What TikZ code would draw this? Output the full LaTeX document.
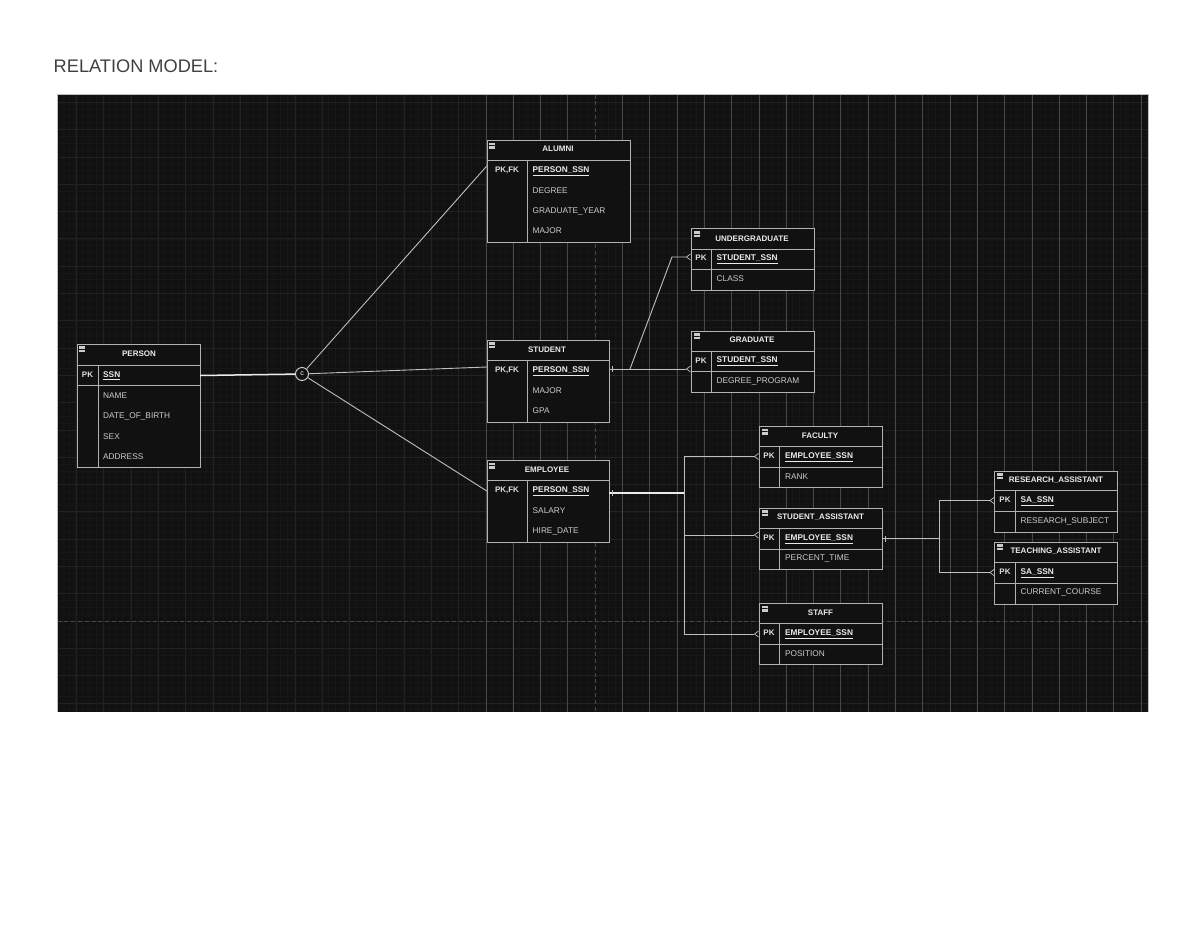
\documentclass[tikz,border=0pt]{standalone}
\usepackage{fontspec}
\setmainfont{Liberation Sans}
\usetikzlibrary{arrows.meta, positioning, calc}
\definecolor{canvasdark}{RGB}{17, 17, 17}
\definecolor{gridfine}{RGB}{22, 22, 22}
\definecolor{gridmajor}{RGB}{34, 34, 34}
\definecolor{gridlight}{RGB}{72, 72, 72}
\definecolor{tableline}{RGB}{178, 178, 178}

\begin{document}
\begin{tikzpicture}[
    x=1pt, y=-1pt,
    tablebox/.style={rectangle, draw=tableline, line width=0.9pt, fill=canvasdark, inner sep=0pt},
    rowspan/.style={rectangle, inner sep=0pt, minimum height=20.5pt},
    title/.style={font=\fontsize{8}{9}\selectfont\bfseries, text=white!92!black, inner sep=0pt},
    pkcell/.style={font=\fontsize{8}{9}\selectfont\bfseries, text=white!88!black, inner sep=0pt},
    keycell/.style={font=\fontsize{8.3}{9}\selectfont\bfseries, text=white!92!black, inner sep=0pt, anchor=west},
    attr/.style={font=\fontsize{8.3}{9}\selectfont, text=white!80!black, inner sep=0pt, anchor=west},
    minusicon/.style={rectangle, fill=white!80!black, minimum size=6pt, inner sep=0pt,
        path picture={\draw[canvasdark, line width=0.7pt] (path picture bounding box.west) -- (path picture bounding box.east);}},
    rule/.style={draw=tableline, line width=0.9pt},
    link/.style={draw=white!75!black, line width=0.9pt},
    heavylink/.style={draw=white!92!black, line width=1.5pt},
    crowfoot/.style={-{Straight Barb[reversed, length=4pt, width=6pt, line width=0.7pt]}},
    griddash/.style={gridlight, line width=0.9pt, dash pattern=on 4pt off 2.8pt}
]
% canvas and grid
\useasboundingbox (0,0) rectangle (1200,927);
\fill[white] (0,0) rectangle (1200,927);
\fill[canvasdark] (57,94) rectangle (1148,712);
\draw[white!75!black, line width=0.8pt] (57,712) -- (57,94) -- (1148,94) -- (1148,712);
\foreach \i in {0,...,159} \draw[gridfine, line width=0.6pt] ({62+\i*6.825},94.5) -- ({62+\i*6.825},712);
\foreach \i in {0,...,89} \draw[gridfine, line width=0.6pt] (57.5,{102.3+\i*6.825}) -- (1148,{102.3+\i*6.825});
\foreach \i in {0,...,14} \draw[gridmajor, line width=0.8pt] ({76.5+\i*27.3},94.5) -- ({76.5+\i*27.3},712);
\foreach \i in {0,...,22} \draw[gridmajor, line width=0.8pt] (57.5,{102.3+\i*27.3}) -- (1148,{102.3+\i*27.3});
\foreach \i in {0,1,2,3,5,6,7,8,9,10,11,12,13,14,15,16,17,18,19,20,21,22,23,24} \draw[gridlight, line width=0.9pt] ({486+\i*27.3},94.5) -- ({486+\i*27.3},712);
\draw[griddash] (595.2,94.5) -- (595.2,712);
\draw[griddash] (57.5,621) -- (1148,621);

\node at (136,66) {\fontsize{18.2}{20}\selectfont\color{black!75}RELATION MODEL:};

% person
\node[tablebox, minimum width=123pt, minimum height=123pt] (person) at (138.5,405.5) {};
\draw[rule] (77,365) -- (200,365);
\draw[rule] (77,385.5) -- (200,385.5);
\draw[rule] (98,365) -- (98,467);
\node[minusicon] (personicon) at (82,349) {};
\node[title] (persontitle) at (139,354) {PERSON};
\node[rowspan, minimum width=123pt] (personrow) at (138.5,375.5) {};
\node[pkcell] (personpk) at (87.5,375) {PK};
\node[keycell] (personkey) at (103,375.5) {\underline{SSN}};
\node[attr] (personname) at (103,395.5) {NAME};
\node[attr] (persondob) at (103,416) {DATE\_OF\_BIRTH};
\node[attr] (personsex) at (103,436.5) {SEX};
\node[attr] (personaddr) at (103,457) {ADDRESS};

% alumni
\node[tablebox, minimum width=143pt, minimum height=102pt] (alumni) at (558.5,191) {};
\draw[rule] (487,160) -- (630,160);
\draw[rule] (527.5,160) -- (527.5,242);
\node[minusicon] (alumniicon) at (491.5,145.5) {};
\node[title] (alumnititle) at (558,149) {ALUMNI};
\node[rowspan, minimum width=143pt] (alumnirow) at (558.5,170) {};
\node[pkcell] (alumnipk) at (507,170) {PK,FK};
\node[keycell] (alumnikey) at (532.5,171) {\underline{PERSON\_SSN}};
\node[attr] (alumnideg) at (532.5,190.5) {DEGREE};
\node[attr] (alumniyear) at (532.5,211) {GRADUATE\_YEAR};
\node[attr] (alumnimajor) at (532.5,231) {MAJOR};

% student
\node[tablebox, minimum width=122pt, minimum height=82pt] (student) at (548,381) {};
\draw[rule] (487,360) -- (609,360);
\draw[rule] (527.5,360) -- (527.5,422);
\node[minusicon] (studenticon) at (491.5,345) {};
\node[title] (studenttitle) at (547,349.5) {STUDENT};
\node[rowspan, minimum width=122pt] (studentrow) at (548,370.5) {};
\node[pkcell] (studentpk) at (507,370) {PK,FK};
\node[keycell] (studentkey) at (532.5,371) {\underline{PERSON\_SSN}};
\node[attr] (studentmajor) at (532.5,390.5) {MAJOR};
\node[attr] (studentgpa) at (532.5,411) {GPA};

% employee
\node[tablebox, minimum width=122pt, minimum height=82pt] (employee) at (548,501) {};
\draw[rule] (487,480.5) -- (609,480.5);
\draw[rule] (527.5,480.5) -- (527.5,542);
\node[minusicon] (employeeicon) at (491.5,465.5) {};
\node[title] (employeetitle) at (547,469.5) {EMPLOYEE};
\node[rowspan, minimum width=122pt] (employeerow) at (548,491) {};
\node[pkcell] (employeepk) at (507,490.5) {PK,FK};
\node[keycell] (employeekey) at (532.5,491.5) {\underline{PERSON\_SSN}};
\node[attr] (employeesalary) at (532.5,510.5) {SALARY};
\node[attr] (employeehire) at (532.5,531) {HIRE\_DATE};

% undergraduate
\node[tablebox, minimum width=123pt, minimum height=62pt] (undergrad) at (752.5,259) {};
\draw[rule] (691,249) -- (814,249);
\draw[rule] (691,269) -- (814,269);
\draw[rule] (711.5,249) -- (711.5,290);
\node[minusicon] (undergradicon) at (696.5,234) {};
\node[title] (undergradtitle) at (752,238.5) {UNDERGRADUATE};
\node[rowspan, minimum width=123pt] (undergradrow) at (752.5,259) {};
\node[pkcell] (undergradpk) at (701,258) {PK};
\node[keycell] (undergradkey) at (716.5,259) {\underline{STUDENT\_SSN}};
\node[attr] (undergradclass) at (716.5,279) {CLASS};

% graduate
\node[tablebox, minimum width=123pt, minimum height=61pt] (graduate) at (752.5,361.5) {};
\draw[rule] (691,351) -- (814,351);
\draw[rule] (691,371.5) -- (814,371.5);
\draw[rule] (711.5,351) -- (711.5,392);
\node[minusicon] (graduateicon) at (696.5,336) {};
\node[title] (graduatetitle) at (752,340) {GRADUATE};
\node[rowspan, minimum width=123pt] (graduaterow) at (752.5,361) {};
\node[pkcell] (graduatepk) at (701,360.5) {PK};
\node[keycell] (graduatekey) at (716.5,361.5) {\underline{STUDENT\_SSN}};
\node[attr] (graduateprog) at (716.5,381.5) {DEGREE\_PROGRAM};

% faculty
\node[tablebox, minimum width=123pt, minimum height=61pt] (faculty) at (820.5,456.5) {};
\draw[rule] (759,446) -- (882,446);
\draw[rule] (759,467) -- (882,467);
\draw[rule] (779.5,446) -- (779.5,487);
\node[minusicon] (facultyicon) at (764.5,431.5) {};
\node[title] (facultytitle) at (820,435.5) {FACULTY};
\node[rowspan, minimum width=123pt] (facultyrow) at (820.5,456.5) {};
\node[pkcell] (facultypk) at (769,456) {PK};
\node[keycell] (facultykey) at (785,457) {\underline{EMPLOYEE\_SSN}};
\node[attr] (facultyrank) at (785,476.5) {RANK};

% student assistant
\node[tablebox, minimum width=123pt, minimum height=61pt] (stuasst) at (820.5,538.5) {};
\draw[rule] (759,528) -- (882,528);
\draw[rule] (759,549) -- (882,549);
\draw[rule] (779.5,528) -- (779.5,569);
\node[minusicon] (stuassticon) at (764.5,513) {};
\node[title] (stuassttitle) at (820.5,517.5) {STUDENT\_ASSISTANT};
\node[rowspan, minimum width=123pt] (stuasstrow) at (820.5,538.5) {};
\node[pkcell] (stuasstpk) at (769,538) {PK};
\node[keycell] (stuasstkey) at (785,539) {\underline{EMPLOYEE\_SSN}};
\node[attr] (stuasstpct) at (785,558) {PERCENT\_TIME};

% staff
\node[tablebox, minimum width=123pt, minimum height=61pt] (staff) at (820.5,634) {};
\draw[rule] (759,623.5) -- (882,623.5);
\draw[rule] (759,644) -- (882,644);
\draw[rule] (779.5,623.5) -- (779.5,665);
\node[minusicon] (stafficon) at (764.5,608.5) {};
\node[title] (stafftitle) at (820.5,612.5) {STAFF};
\node[rowspan, minimum width=123pt] (staffrow) at (820.5,634) {};
\node[pkcell] (staffpk) at (769,633) {PK};
\node[keycell] (staffkey) at (785,634) {\underline{EMPLOYEE\_SSN}};
\node[attr] (staffpos) at (785,654) {POSITION};

% research assistant
\node[tablebox, minimum width=123pt, minimum height=61pt] (research) at (1056,501.5) {};
\draw[rule] (994.5,490.5) -- (1117.5,490.5);
\draw[rule] (994.5,511) -- (1117.5,511);
\draw[rule] (1015,490.5) -- (1015,532);
\node[minusicon] (researchicon) at (1000,476) {};
\node[title] (researchtitle) at (1056,480) {RESEARCH\_ASSISTANT};
\node[rowspan, minimum width=123pt] (researchrow) at (1056,500.5) {};
\node[pkcell] (researchpk) at (1005,500) {PK};
\node[keycell] (researchkey) at (1020.5,501) {\underline{SA\_SSN}};
\node[attr] (researchsubj) at (1020.5,521) {RESEARCH\_SUBJECT};

% teaching assistant
\node[tablebox, minimum width=123pt, minimum height=62pt] (teaching) at (1056,573) {};
\draw[rule] (994.5,562) -- (1117.5,562);
\draw[rule] (994.5,583) -- (1117.5,583);
\draw[rule] (1015,562) -- (1015,604);
\node[minusicon] (teachingicon) at (1000,547) {};
\node[title] (teachingtitle) at (1056,551.5) {TEACHING\_ASSISTANT};
\node[rowspan, minimum width=123pt] (teachingrow) at (1056,572.5) {};
\node[pkcell] (teachingpk) at (1005,572) {PK};
\node[keycell] (teachingkey) at (1020.5,573) {\underline{SA\_SSN}};
\node[attr] (teachingcourse) at (1020.5,592.5) {CURRENT\_COURSE};

% disjoint circle and its links
\node[circle, draw=white!85!black, line width=0.9pt, fill=canvasdark, minimum size=13pt, inner sep=0pt, font=\fontsize{7}{8}\selectfont, text=white] (split) at (302,374) {c};
\draw[heavylink] (personrow.east) -- (split);
\draw[link] (split) -- ([yshift=4]alumnirow.west);
\draw[link] (split) -- ([yshift=3.5]studentrow.west);
\draw[link] (split) -- (employeerow.west);

% student to its subtypes
\coordinate (studentfork) at (630,369);
\coordinate (undergradbend) at (672,257);
\draw[link] ([yshift=1.5]studentrow.east) -- (studentfork);
\draw[link] ([xshift=3,yshift=4.5]studentrow.east) -- ([xshift=3,yshift=-1.5]studentrow.east);
\draw[link, crowfoot] (studentfork) -- (undergradbend) -- ([yshift=2]undergradrow.west);
\draw[link, crowfoot] (studentfork) -- ([yshift=-8]graduaterow.west);

% employee to its subtypes
\coordinate (employeefork) at (684,493);
\draw[heavylink] ([yshift=-2]employeerow.east) -- (employeefork);
\draw[link] ([xshift=3,yshift=1]employeerow.east) -- ([xshift=3,yshift=-5]employeerow.east);
\draw[link, crowfoot] (employeefork) |- (facultyrow.west);
\draw[link, crowfoot] (employeefork) |- ([yshift=3.5]stuasstrow.west);
\draw[link, crowfoot] (employeefork) |- (staffrow.west);

% student assistant to its subtypes
\coordinate (stuasstfork) at (939,538.5);
\draw[link] (stuasstrow.east) -- (stuasstfork);
\draw[link] ([xshift=3,yshift=-3]stuasstrow.east) -- ([xshift=3,yshift=3]stuasstrow.east);
\draw[link, crowfoot] (stuasstfork) |- (researchrow.west);
\draw[link, crowfoot] (stuasstfork) |- (teachingrow.west);
\end{tikzpicture}
\end{document}
